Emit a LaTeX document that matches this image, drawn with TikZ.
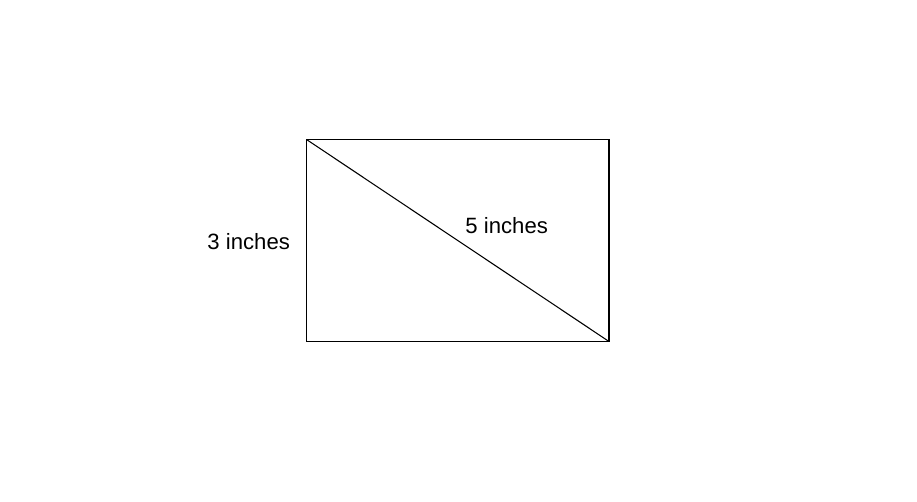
\documentclass[tikz,border=0pt]{standalone}
\usepackage{fontspec}
\setmainfont{Liberation Sans}
\begin{document}
\begin{tikzpicture}[x=0.75pt,y=-0.75pt,
  lbl/.style={inner sep=0pt,anchor=base,font=\fontsize{16.6pt}{19pt}\selectfont},
  edge/.style={draw=black,line width=0.8pt}]
\useasboundingbox[fill=white] (0,0) rectangle (917,502);
\coordinate (tl) at (306.5,139.5);
\coordinate (br) at (609,341.5);
\draw[edge] (tl) rectangle (br);
\draw[edge] (tl) -- (br);
\node[lbl] (h) at (248.7,249.3) {3 inches};
\node[lbl] (d) at (506.7,233.3) {5 inches};
\end{tikzpicture}
\end{document}
